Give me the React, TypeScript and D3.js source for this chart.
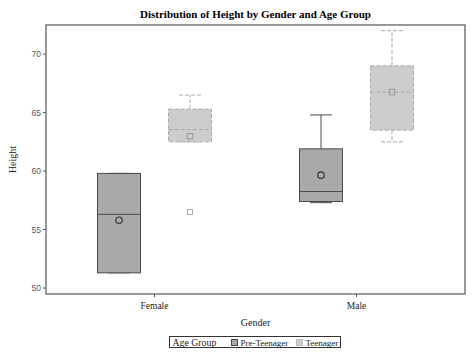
import React from "react";
import * as d3 from "d3";

const categories = ["Female", "Male"];
const groups = ["Pre-Teenager", "Teenager"];

// Pre-Teenager stats per category
const preMin = [51.3, 57.3];
const preQ1 = [51.3, 57.4];
const preMedian = [56.3, 58.25];
const preQ3 = [59.8, 61.9];
const preMax = [59.8, 64.8];
const preMean = [55.8, 59.65];
const preOutliers: number[][] = [[], []];

// Teenager stats per category
const teenMin = [62.5, 62.5];
const teenQ1 = [62.5, 63.5];
const teenMedian = [63.55, 66.75];
const teenQ3 = [65.3, 69.0];
const teenMax = [66.5, 72.0];
const teenMean = [62.98, 66.75];
const teenOutliers: number[][] = [[56.5], []];

const yTicks = [50, 55, 60, 65, 70];

const W = 474;
const H = 355;
const left = 46;
const right = 465;
const top = 25;
const bottom = 294;

const SERIF = "'Liberation Serif', 'Times New Roman', serif";
const SANS = "'Liberation Sans', Arial, sans-serif";

type Stat = {
  cat: string;
  group: string;
  min: number;
  q1: number;
  median: number;
  q3: number;
  max: number;
  mean: number;
  outliers: number[];
};

export default function App() {
  const x = d3.scalePoint<string>().domain(categories).range([left, right]).padding(0.537);
  const xg = d3.scalePoint<string>().domain(groups).range([-35.5, 35.5]);
  const y = d3.scaleLinear().domain([49.49, 72.49]).range([bottom, top]);

  const stats: Stat[] = [];
  categories.forEach((c, i) => {
    stats.push({ cat: c, group: groups[0], min: preMin[i], q1: preQ1[i], median: preMedian[i], q3: preQ3[i], max: preMax[i], mean: preMean[i], outliers: preOutliers[i] });
    stats.push({ cat: c, group: groups[1], min: teenMin[i], q1: teenQ1[i], median: teenMedian[i], q3: teenQ3[i], max: teenMax[i], mean: teenMean[i], outliers: teenOutliers[i] });
  });

  const boxW = 43;
  const capW = 22;
  const style = {
    [groups[0]]: { fill: "#a9a9a9", stroke: "#4a4a4a", dash: undefined as string | undefined, marker: "#333" },
    [groups[1]]: { fill: "#cdcdcd", stroke: "#ababab", dash: "4,2", marker: "#999" },
  };

  return (
    <svg width={W} height={H} style={{ position: "absolute", left: 0, top: 0, background: "#fff" }}>
      <text x={(left + right) / 2} y={18} textAnchor="middle" fontFamily={SERIF} fontWeight="bold" fontSize={11}>
        Distribution of Height by Gender and Age Group
      </text>

      {stats.map((s, i) => {
        const cx = (x(s.cat) as number) + (xg(s.group) as number);
        const st = style[s.group];
        return (
          <g key={i}>
            <line x1={cx} x2={cx} y1={y(s.q3)} y2={y(s.max)} stroke={st.stroke} strokeDasharray={st.dash} />
            <line x1={cx} x2={cx} y1={y(s.q1)} y2={y(s.min)} stroke={st.stroke} strokeDasharray={st.dash} />
            <line x1={cx - capW / 2} x2={cx + capW / 2} y1={y(s.max)} y2={y(s.max)} stroke={st.stroke} strokeDasharray={st.dash} />
            <line x1={cx - capW / 2} x2={cx + capW / 2} y1={y(s.min)} y2={y(s.min)} stroke={st.stroke} strokeDasharray={st.dash} />
            <rect x={cx - boxW / 2} y={y(s.q3)} width={boxW} height={y(s.q1) - y(s.q3)} fill={st.fill} stroke={st.stroke} strokeDasharray={st.dash} />
            <line x1={cx - boxW / 2} x2={cx + boxW / 2} y1={y(s.median)} y2={y(s.median)} stroke={st.stroke} strokeDasharray={st.dash} />
            {s.group === groups[0] ? (
              <circle cx={cx} cy={y(s.mean)} r={3.2} fill="none" stroke={st.marker} strokeWidth={1.2} />
            ) : (
              <rect x={cx - 2.75} y={y(s.mean) - 2.75} width={5.5} height={5.5} fill="none" stroke={st.marker} />
            )}
            {s.outliers.map((o, j) => (
              <rect key={j} x={cx - 2.5} y={y(o) - 2.5} width={5} height={5} fill="none" stroke="#aaa" />
            ))}
          </g>
        );
      })}

      <rect x={left} y={top} width={right - left} height={bottom - top} fill="none" stroke="#555" strokeWidth={1.2} />

      {yTicks.map((t) => (
        <g key={t}>
          <line x1={left - 3} x2={left} y1={y(t)} y2={y(t)} stroke="#555" />
          <text x={left - 5} y={y(t)} dy="0.35em" textAnchor="end" fontFamily={SANS} fontSize={8.5} fill="#555">
            {t}
          </text>
        </g>
      ))}
      <text transform={`translate(16,${(top + bottom) / 2}) rotate(-90)`} textAnchor="middle" fontFamily={SERIF} fontSize={10} fill="#222">
        Height
      </text>

      {categories.map((c) => (
        <g key={c}>
          <line x1={x(c)} x2={x(c)} y1={bottom} y2={bottom + 3} stroke="#555" />
          <text x={x(c)} y={309} textAnchor="middle" fontFamily={SERIF} fontSize={9.5} fill="#222">
            {c}
          </text>
        </g>
      ))}
      <text x={(left + right) / 2} y={326} textAnchor="middle" fontFamily={SERIF} fontSize={10} fill="#222">
        Gender
      </text>

      <rect x={169.5} y={336.5} width={171} height={11} fill="#fff" stroke="#333" />
      <text x={172.5} y={345.5} fontFamily={SERIF} fontSize={9.8} fill="#222">Age Group</text>
      <rect x={231.5} y={339.5} width={6} height={6} fill={style[groups[0]].fill} stroke="#444" />
      <text x={240.5} y={345.5} fontFamily={SERIF} fontSize={9} fill="#222">{groups[0]}</text>
      <rect x={296.5} y={339.5} width={6} height={6} fill={style[groups[1]].fill} stroke="#bbb" />
      <text x={305.5} y={345.5} fontFamily={SERIF} fontSize={9} fill="#222">{groups[1]}</text>
    </svg>
  );
}
